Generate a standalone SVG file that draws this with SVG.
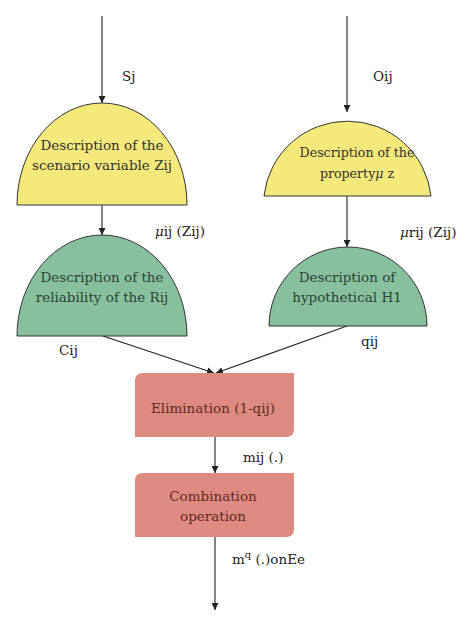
<svg xmlns="http://www.w3.org/2000/svg" width="474" height="629" viewBox="0 0 474 629">
<defs>
<marker id="arr" viewBox="0 0 10 10" refX="10" refY="5" markerWidth="7" markerHeight="7" markerUnits="userSpaceOnUse" orient="auto">
<path d="M0,0 L10,5 L0,10 Z" fill="#222"/>
</marker>
<style>
text{font-family:'DejaVu Serif',serif}
.t{font-size:13.5px;fill:#333;text-anchor:middle}
.s{font-size:12.6px}
.l{font-size:13.5px;fill:#222}
.y{fill:#f5e97c;stroke:#333;stroke-width:1}
.g{fill:#88c09e;stroke:#333;stroke-width:1}
.r{fill:#df8a80}
.c{stroke:#222;stroke-width:1.1;fill:none;marker-end:url(#arr)}
.rt{fill:#5a2b28}
.gt{fill:#2f3f34}
</style>
</defs>
<rect width="474" height="629" fill="#fff"/>
<g id="connectors">
<line class="c" x1="102" y1="16" x2="102" y2="103"/>
<line class="c" x1="347" y1="16" x2="347" y2="112"/>
<line class="c" x1="102" y1="205" x2="102" y2="235"/>
<line class="c" x1="347" y1="196" x2="347" y2="247"/>
<line class="c" x1="103" y1="336" x2="214" y2="373"/>
<line class="c" x1="347" y1="326" x2="216" y2="373"/>
<line class="c" x1="215" y1="437" x2="215" y2="473"/>
<line class="c" x1="215" y1="537" x2="215" y2="610"/>
<text class="l" x="122" y="81">Sj</text>
<text class="l" x="373" y="81">Oij</text>
<text class="l" x="155" y="236"><tspan font-style="italic">μ</tspan>ij (Zij)</text>
<text class="l" x="400" y="237"><tspan font-style="italic">μ</tspan>rij (Zij)</text>
<text class="l" x="59" y="355">Cij</text>
<text class="l" x="361" y="346">qij</text>
<text class="l" x="243" y="462">mij (.)</text>
<text class="l" x="232" y="564">m<tspan font-size="10" dy="-6">q</tspan><tspan dy="6"> (.)onEe</tspan></text>
</g>
<g id="scenario">
<path class="y" d="M17,205 A85,102 0 0 1 187,205 Z"/>
<text class="t" x="102" y="150">Description of the</text>
<text class="t" x="102" y="170">scenario variable Zij</text>
</g>
<g id="property">
<path class="y" d="M264,196 A84,84 0 0 1 431,196 Z"/>
<text class="t s" x="357" y="157">Description of the</text>
<text class="t s" x="357" y="178">property<tspan font-style="italic">μ</tspan> z</text>
</g>
<g id="reliability">
<path class="g" d="M17,336 A85,101 0 0 1 187,336 Z"/>
<text class="t gt" x="102" y="282">Description of the</text>
<text class="t gt" x="102" y="302">reliability of the Rij</text>
</g>
<g id="hypothetical">
<path class="g" d="M269,326 A79,79 0 0 1 427,326 Z"/>
<text class="t gt" x="347" y="282">Description of</text>
<text class="t gt" x="347" y="302">hypothetical H1</text>
</g>
<g id="elimination">
<path class="r" d="M143,373 H294 V429 Q294,437 286,437 H135 V381 Q135,373 143,373 Z"/>
<text class="t rt" x="213" y="413">Elimination (1-qij)</text>
</g>
<g id="combination">
<path class="r" d="M143,473 H294 V529 Q294,537 286,537 H135 V481 Q135,473 143,473 Z"/>
<text class="t rt" x="213" y="501">Combination</text>
<text class="t rt" x="213" y="521">operation</text>
</g>
</svg>
